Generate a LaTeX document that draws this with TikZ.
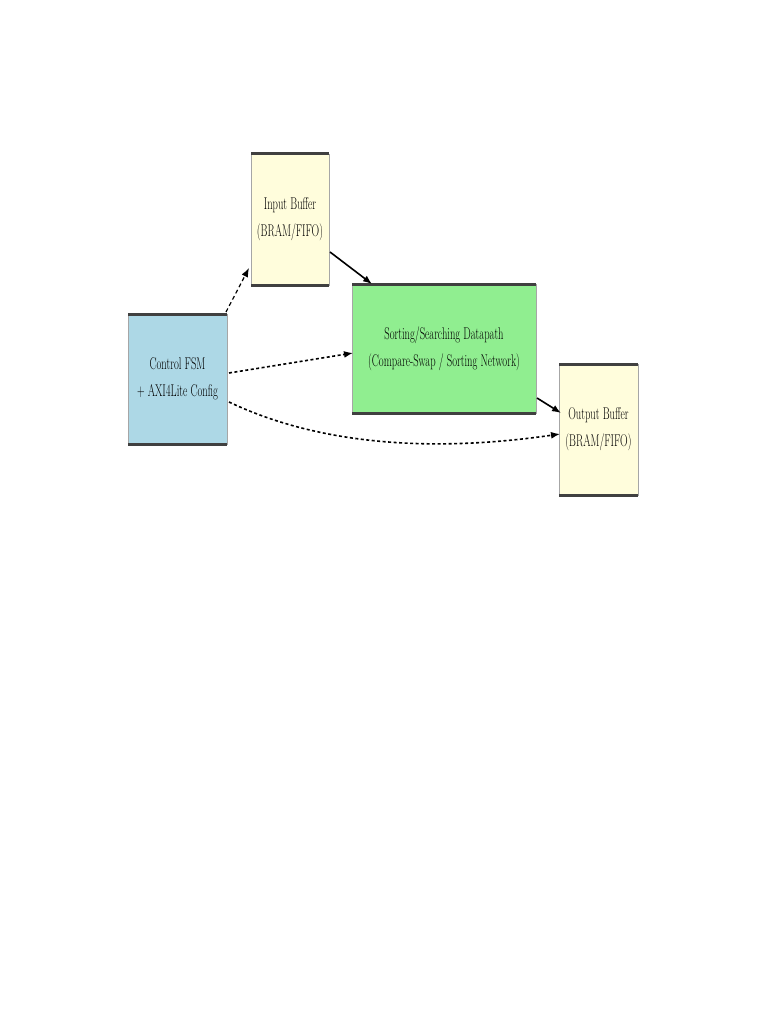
\documentclass[tikz,border=0pt]{standalone}
\usetikzlibrary{arrows.meta}
\definecolor{cblue}{RGB}{173,216,230}
\definecolor{cyel}{RGB}{255,253,220}
\definecolor{cgreen}{RGB}{144,238,144}
\tikzset{
  blk/.style={fill=#1, draw=gray!70, line width=0.6pt},
  lbl/.style={font=\fontsize{17}{27}\selectfont, align=center, inner sep=0pt},
  arr/.style={-{Latex[length=9pt,width=7pt]}, line width=1.6pt},
  dotarr/.style={arr, dash pattern=on 3pt off 2.5pt},
}
\newcommand{\sq}[1]{\scalebox{0.62}[1]{#1}}
\newcommand{\mybox}[6]{% name, x1,y1,x2,y2, color
  \fill[#6] (#2,-#3) rectangle (#4,-#5);
  \draw[gray!70, line width=0.6pt] (#2,-#3) rectangle (#4,-#5);
  \draw[black!75, line width=3pt] (#2,-#3) -- (#4,-#3);
  \draw[black!75, line width=3pt] (#2,-#5) -- (#4,-#5);
  \coordinate (#1) at ({(#2+#4)/2},{-(#3+#5)/2});
}
\begin{document}
\begin{tikzpicture}[x=1pt,y=1pt]
\useasboundingbox (0,0) rectangle (768,-1024);
\mybox{cf}{128}{314}{227}{444}{cblue}
\mybox{ib}{251}{154}{329}{285}{cyel}
\mybox{sd}{352}{284}{536}{413}{cgreen}
\mybox{ob}{559}{364}{638}{495}{cyel}
\node[lbl] (cft) at (cf) {\sq{Control FSM}\\\sq{+ AXI4Lite Config}};
\node[lbl] (ibt) at (ib) {\sq{Input Buffer}\\\sq{(BRAM/FIFO)}};
\node[lbl] (sdt) at (sd) {\sq{Sorting/Searching Datapath}\\\sq{(Compare-Swap / Sorting Network)}};
\node[lbl] (obt) at (ob) {\sq{Output Buffer}\\\sq{(BRAM/FIFO)}};
\coordinate (a1) at (226,-312);
\coordinate (a2) at (249,-268);
\draw[arr, dash pattern=on 4pt off 3pt, line width=1.2pt] (a1) -- (a2);
\coordinate (b1) at (229,-373);
\coordinate (b2) at (353,-353);
\draw[dotarr] (b1) -- (b2);
\coordinate (c1) at (229,-402);
\coordinate (c2) at (560,-434);
\draw[dotarr] (c1) .. controls (330,-450) and (450,-450) .. (c2);
\coordinate (d1) at (330,-252);
\coordinate (d2) at (372,-284);
\draw[arr] (d1) -- (d2);
\coordinate (e1) at (537,-398);
\coordinate (e2) at (561,-413);
\draw[arr] (e1) -- (e2);
\end{tikzpicture}
\end{document}
